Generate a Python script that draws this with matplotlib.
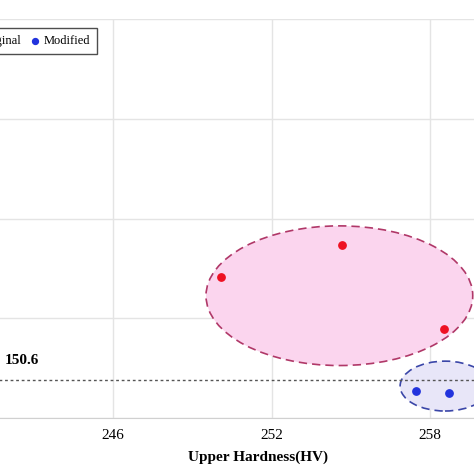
import matplotlib
matplotlib.use("Agg")
import matplotlib.pyplot as plt
from matplotlib.patches import Ellipse
import numpy as np

plt.rcParams['font.family'] = ['Liberation Serif', 'DejaVu Serif']

# Data
orig_x = [250.08, 254.66, 258.54]
orig_y = [155.77, 157.39, 153.14]
mod_x = [257.46, 258.73]
mod_y = [150.07, 149.95]
threshold = 150.6
x_ticks = [246, 252, 258]
y_ticks = [148.7, 153.7, 158.7, 163.7, 168.7]

fig = plt.figure(figsize=(4.74, 4.74), dpi=100)
W = 474.0
# axes extends beyond the figure (cropped chart)
ax = fig.add_axes([-19/W, 1-418/W, 554.6/W, 399/W])
ax.set_xticks(x_ticks)
ax.set_yticks(y_ticks)
ax.set_xlim(241, 262)
ax.set_ylim(148.7, 168.7)
ax.tick_params(length=0, labelsize=11, pad=8)
ax.set_yticklabels([])
ax.grid(True, color='#e4e4e4', linewidth=1)
ax.set_axisbelow(True)
for s in ['top', 'left', 'right']:
    ax.spines[s].set_visible(False)
ax.spines['bottom'].set_color('#d0d0d0')

ax.add_patch(Ellipse((254.57, 154.83), 10.1, 7.0, facecolor='#fbd5ee',
                     edgecolor='#b03868', linestyle=(0, (5, 3)), linewidth=1.2, zorder=2))
ax.add_patch(Ellipse((258.57, 150.3), 3.4, 2.5, facecolor='#e8e6f8',
                     edgecolor='#3a46a8', linestyle=(0, (5, 3)), linewidth=1.2, zorder=2))

ax.axhline(threshold, color='#555555', linestyle=(0, (2, 2)), linewidth=1, zorder=3)
ax.text(241.9, threshold + 1.0, '150.6', fontsize=11, fontweight='bold',
        ha='left', va='center')

ax.scatter(orig_x, orig_y, s=28, color='#ee1122', zorder=4, label='Original')
ax.scatter(mod_x, mod_y, s=28, color='#2233dd', zorder=4, label='Modified')

ax.set_xlabel('Upper Hardness(HV)', fontsize=11, fontweight='bold', labelpad=6)

leg = fig.legend(loc='upper right', bbox_to_anchor=(103/W, 1-22/W), ncol=2,
                 fontsize=9, frameon=True, fancybox=False, handletextpad=0.15,
                 columnspacing=0.6, borderpad=0.55, handlelength=1.0, markerscale=0.8)
leg.get_frame().set_edgecolor('#222222')
leg.get_frame().set_linewidth(1.0)

fig.savefig('out.png', dpi=100)
